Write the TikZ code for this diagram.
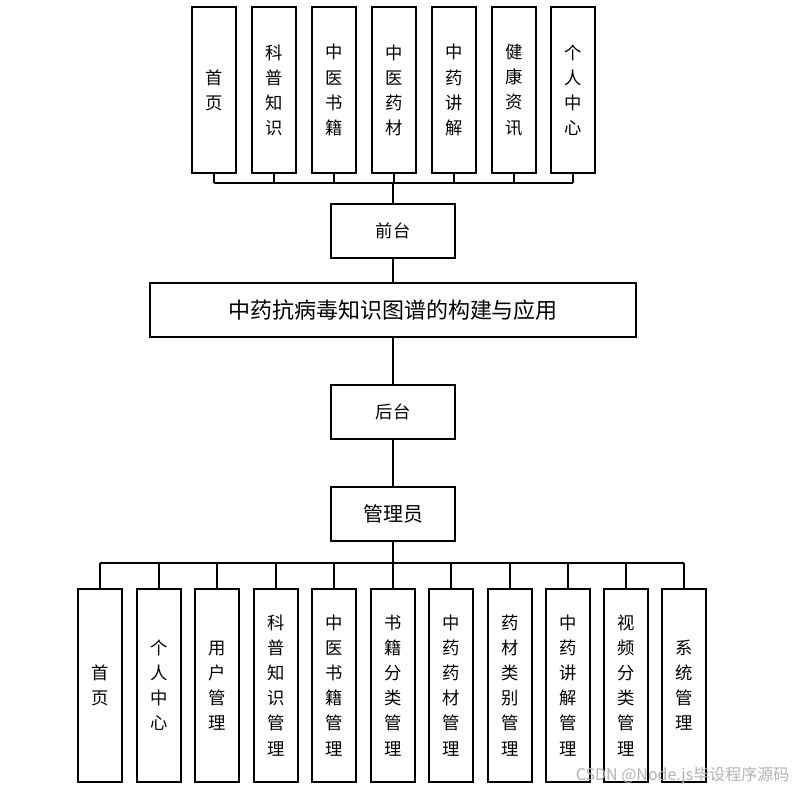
\documentclass[tikz,border=0pt]{standalone}
\usepackage{fontspec}
\newfontfamily\cjk{Noto Sans CJK SC}
\begin{document}
\begin{tikzpicture}[x=0.75pt,y=-0.75pt,
 bx/.style={draw,line width=0.8pt,inner sep=0pt,font=\cjk\fontsize{13}{18.8}\selectfont,align=center},
 ln/.style={line width=0.8pt}]
\useasboundingbox[fill=white] (0,0) rectangle (808,797);
\foreach \i/\x/\t in {1/214/首\\页,2/274/科\\普\\知\\识,3/334/中\\医\\书\\籍,4/394/中\\医\\药\\材,5/454/中\\药\\讲\\解,6/514/健\\康\\资\\讯,7/573/个\\人\\中\\心}{
 \node[bx,minimum width=33pt,minimum height=124.5pt] (t\i) at (\x,90) {\t};
 \draw[ln] (t\i.south) -- (\x,183);
}
\node[bx,minimum width=93pt,minimum height=40.5pt] (qt) at (393,231) {前台};
\node[bx,minimum width=364.5pt,minimum height=40.5pt,font=\cjk\fontsize{16.5}{20}\selectfont] (main) at (393,310) {中药抗病毒知识图谱的构建与应用};
\node[bx,minimum width=93pt,minimum height=40.5pt] (ht) at (393,412) {后台};
\node[bx,minimum width=93pt,minimum height=40.5pt,font=\cjk\fontsize{15}{20}\selectfont] (gly) at (393,514) {管理员};
\coordinate (tb) at (393,183);
\draw[ln] (214,183) -- (573,183);
\draw[ln] (tb) -- (qt.north);
\draw[ln] (qt.south) -- (main.north);
\draw[ln] (main.south) -- (ht.north);
\draw[ln] (ht.south) -- (gly.north);
\draw[ln] (gly.south) -- (393,563);
\draw[ln] (100,563) -- (684,563);
\foreach \i/\x/\t in {1/100/首\\页,2/159/个\\人\\中\\心,3/217/用\\户\\管\\理,4/276/科\\普\\知\\识\\管\\理,5/334/中\\医\\书\\籍\\管\\理,6/393/书\\籍\\分\\类\\管\\理,7/451/中\\药\\药\\材\\管\\理,8/510/药\\材\\类\\别\\管\\理,9/568/中\\药\\讲\\解\\管\\理,10/626/视\\频\\分\\类\\管\\理,11/684/系\\统\\管\\理}{
 \node[bx,minimum width=33pt,minimum height=144.75pt] (b\i) at (\x,685.5) {\t};
 \draw[ln] (b\i.north) -- (\x,563);
}
\node[text=gray!60,font=\cjk\fontsize{12}{14}\selectfont,anchor=east] (wm) at (794,776) {CSDN @Node.js毕设程序源码};
\end{tikzpicture}
\end{document}
